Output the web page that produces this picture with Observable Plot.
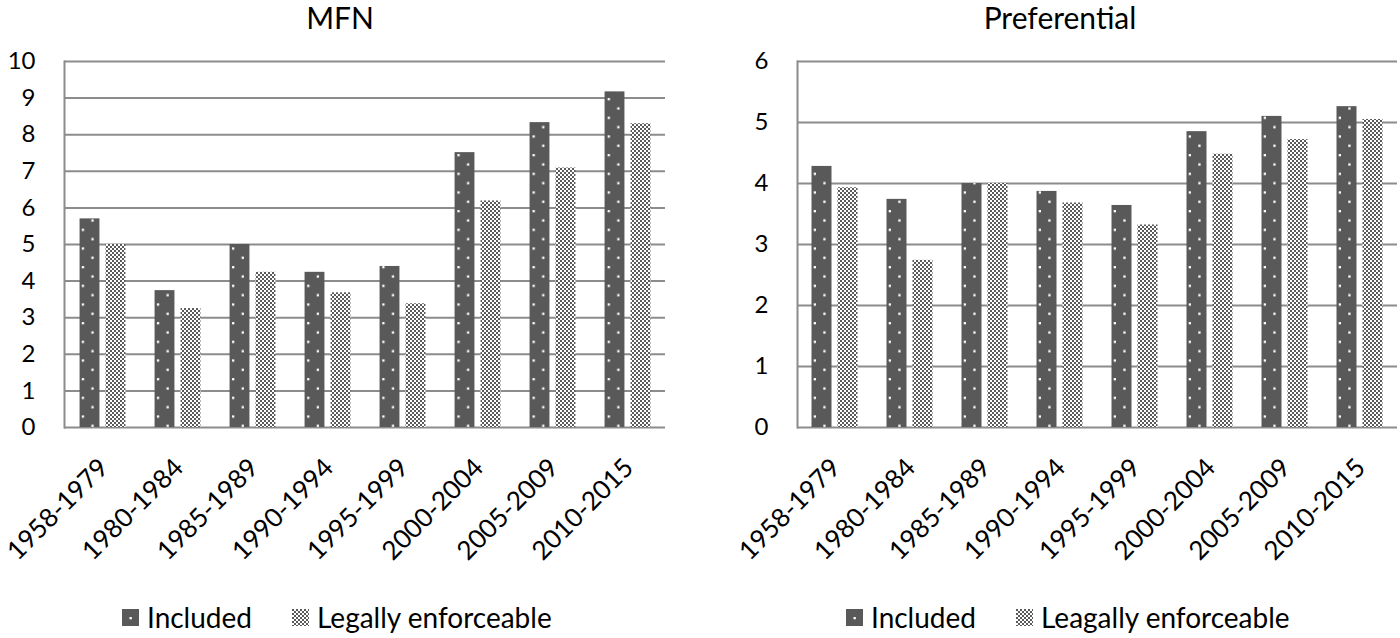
<!DOCTYPE html>
<html><head><meta charset="utf-8">
<script src="https://cdn.jsdelivr.net/npm/d3@7"></script>
<script src="https://cdn.jsdelivr.net/npm/@observablehq/plot@0.6"></script>
<style>
body{margin:0;background:#fff;font-family:Lato,sans-serif;}
#wrap{position:relative;width:1400px;height:638px;overflow:hidden;background:#fff;}
.title{position:absolute;top:0px;font-size:30px;line-height:34px;transform:translateX(-50%);white-space:nowrap;color:#000;}
.panel{position:absolute;top:40px;}
.legend{position:absolute;top:600px;display:flex;align-items:center;font-size:28px;line-height:34px;white-space:nowrap;color:#000;}
.legend svg{display:block;}
</style></head><body><div id="wrap"></div>
<script>
// ---- data ----
const periods = ["1958-1979","1980-1984","1985-1989","1990-1994","1995-1999","2000-2004","2005-2009","2010-2015"];
const mfnIncluded = [5.70, 3.74, 5.00, 4.24, 4.40, 7.51, 8.33, 9.17];
const mfnLegal    = [5.00, 3.25, 4.24, 3.68, 3.38, 6.19, 7.09, 8.30];
const prefIncluded = [4.28, 3.74, 4.00, 3.87, 3.64, 4.85, 5.10, 5.26];
const prefLegal    = [3.93, 2.74, 4.00, 3.68, 3.32, 4.48, 4.72, 5.05];
const mfnTicks  = [0,1,2,3,4,5,6,7,8,9,10];
const prefTicks = [0,1,2,3,4,5,6];
const titles = ["MFN", "Preferential"];
const legendLabelsMfn  = ["Included", "Legally enforceable"];
const legendLabelsPref = ["Included", "Leagally enforceable"];

const wrap = document.getElementById("wrap");
const GRID = "#8c8c8c";
const DARK = "#595959";
const CHECK = "#5a5a5a";
const BAR_W = 20, GAP = 6;

function addPatterns(svgSel, id, xStart, step, pad) {
  const defs = svgSel.insert("defs", ":first-child");
  const h = 18.67;
  const p = defs.append("pattern").attr("id", id + "dots").attr("patternUnits", "userSpaceOnUse")
    .attr("x", xStart).attr("y", 0).attr("width", step).attr("height", h);
  p.append("rect").attr("width", step).attr("height", h).attr("fill", DARK);
  p.append("rect").attr("x", pad + 2.2).attr("y", 2).attr("width", 2.3).attr("height", 2.3).attr("fill", "#fff");
  p.append("rect").attr("x", pad + 11.8).attr("y", 11.3).attr("width", 2.3).attr("height", 2.3).attr("fill", "#fff");
  const c = defs.append("pattern").attr("id", id + "check").attr("patternUnits", "userSpaceOnUse")
    .attr("x", 0).attr("y", 0).attr("width", 4).attr("height", 4);
  c.append("rect").attr("width", 4).attr("height", 4).attr("fill", "#fff");
  c.append("rect").attr("x", 0).attr("y", 0).attr("width", 2).attr("height", 2).attr("fill", CHECK);
  c.append("rect").attr("x", 2).attr("y", 2).attr("width", 2).attr("height", 2).attr("fill", CHECK);
}

function panel({id, left, marginLeft, marginRight, inc, legal, ticks, title, titleX, legendLabels, legendX}) {
  const width = 700, height = 540;
  const plotW = width - marginLeft - marginRight;
  const step = plotW / periods.length;
  const pad = (step - 2 * BAR_W - GAP) / 2;
  const chart = Plot.plot({
    width, height,
    marginTop: 21, marginBottom: 153, marginLeft, marginRight,
    style: {fontFamily: "Lato, sans-serif", fontSize: "24px", color: "#000", background: "#fff", overflow: "visible"},
    x: {domain: periods, padding: 0, label: null},
    y: {domain: [ticks[0], ticks[ticks.length - 1]], label: null},
    marks: [
      Plot.ruleY(ticks, {stroke: GRID, strokeWidth: 2}),
      Plot.frame({anchor: "left", stroke: GRID, strokeWidth: 2}),
      Plot.barY(periods, {x: d => d, y: (d, i) => inc[i], fill: `url(#${id}dots)`,
        insetLeft: pad, insetRight: step - pad - BAR_W}),
      Plot.barY(periods, {x: d => d, y: (d, i) => legal[i], fill: `url(#${id}check)`,
        insetLeft: pad + BAR_W + GAP, insetRight: pad}),
      Plot.axisY(ticks, {tickSize: 0, tickPadding: 29, fontSize: 24, label: null, tickFormat: d => String(d)}),
      Plot.axisX({tickRotate: -45, tickSize: 0, tickPadding: 36, fontSize: 26, dx: 1, label: null})
    ]
  });
  const xs = chart.scale("x");
  addPatterns(d3.select(chart), id, xs.apply(periods[0]), step, pad);
  const div = document.createElement("div");
  div.className = "panel";
  div.style.left = left + "px";
  div.appendChild(chart);
  wrap.appendChild(div);

  const t = document.createElement("div");
  t.className = "title";
  t.style.left = titleX + "px";
  t.textContent = title;
  wrap.appendChild(t);

  // legend
  const lg = document.createElement("div");
  lg.className = "legend";
  lg.style.left = legendX + "px";
  legendLabels.forEach((lab, k) => {
    const sw = d3.create("svg").attr("width", 17).attr("height", 17)
      .style("margin-right", "8px").style("margin-left", k ? "40px" : "0px");
    const d = sw.append("defs");
    const c = d.append("pattern").attr("id", id + "lgchk" + k).attr("patternUnits", "userSpaceOnUse")
      .attr("width", 4).attr("height", 4);
    c.append("rect").attr("width", 4).attr("height", 4).attr("fill", "#fff");
    c.append("rect").attr("width", 2).attr("height", 2).attr("fill", CHECK);
    c.append("rect").attr("x", 2).attr("y", 2).attr("width", 2).attr("height", 2).attr("fill", CHECK);
    if (k === 0) {
      sw.append("rect").attr("width", 17).attr("height", 17).attr("fill", DARK);
      sw.append("rect").attr("x", 7.5).attr("y", 8).attr("width", 2.3).attr("height", 2.3).attr("fill", "#fff");
    } else {
      sw.append("rect").attr("width", 17).attr("height", 17).attr("fill", `url(#${id}lgchk${k})`);
    }
    lg.appendChild(sw.node());
    const s = document.createElement("span");
    s.textContent = lab;
    lg.appendChild(s);
  });
  wrap.appendChild(lg);
}

panel({id: "mfn", left: 0, marginLeft: 64, marginRight: 35, inc: mfnIncluded, legal: mfnLegal,
  ticks: mfnTicks, title: titles[0], titleX: 340, legendLabels: legendLabelsMfn, legendX: 122});
panel({id: "pref", left: 700, marginLeft: 97, marginRight: 3, inc: prefIncluded, legal: prefLegal,
  ticks: prefTicks, title: titles[1], titleX: 1060, legendLabels: legendLabelsPref, legendX: 846});
</script>
</body></html>
